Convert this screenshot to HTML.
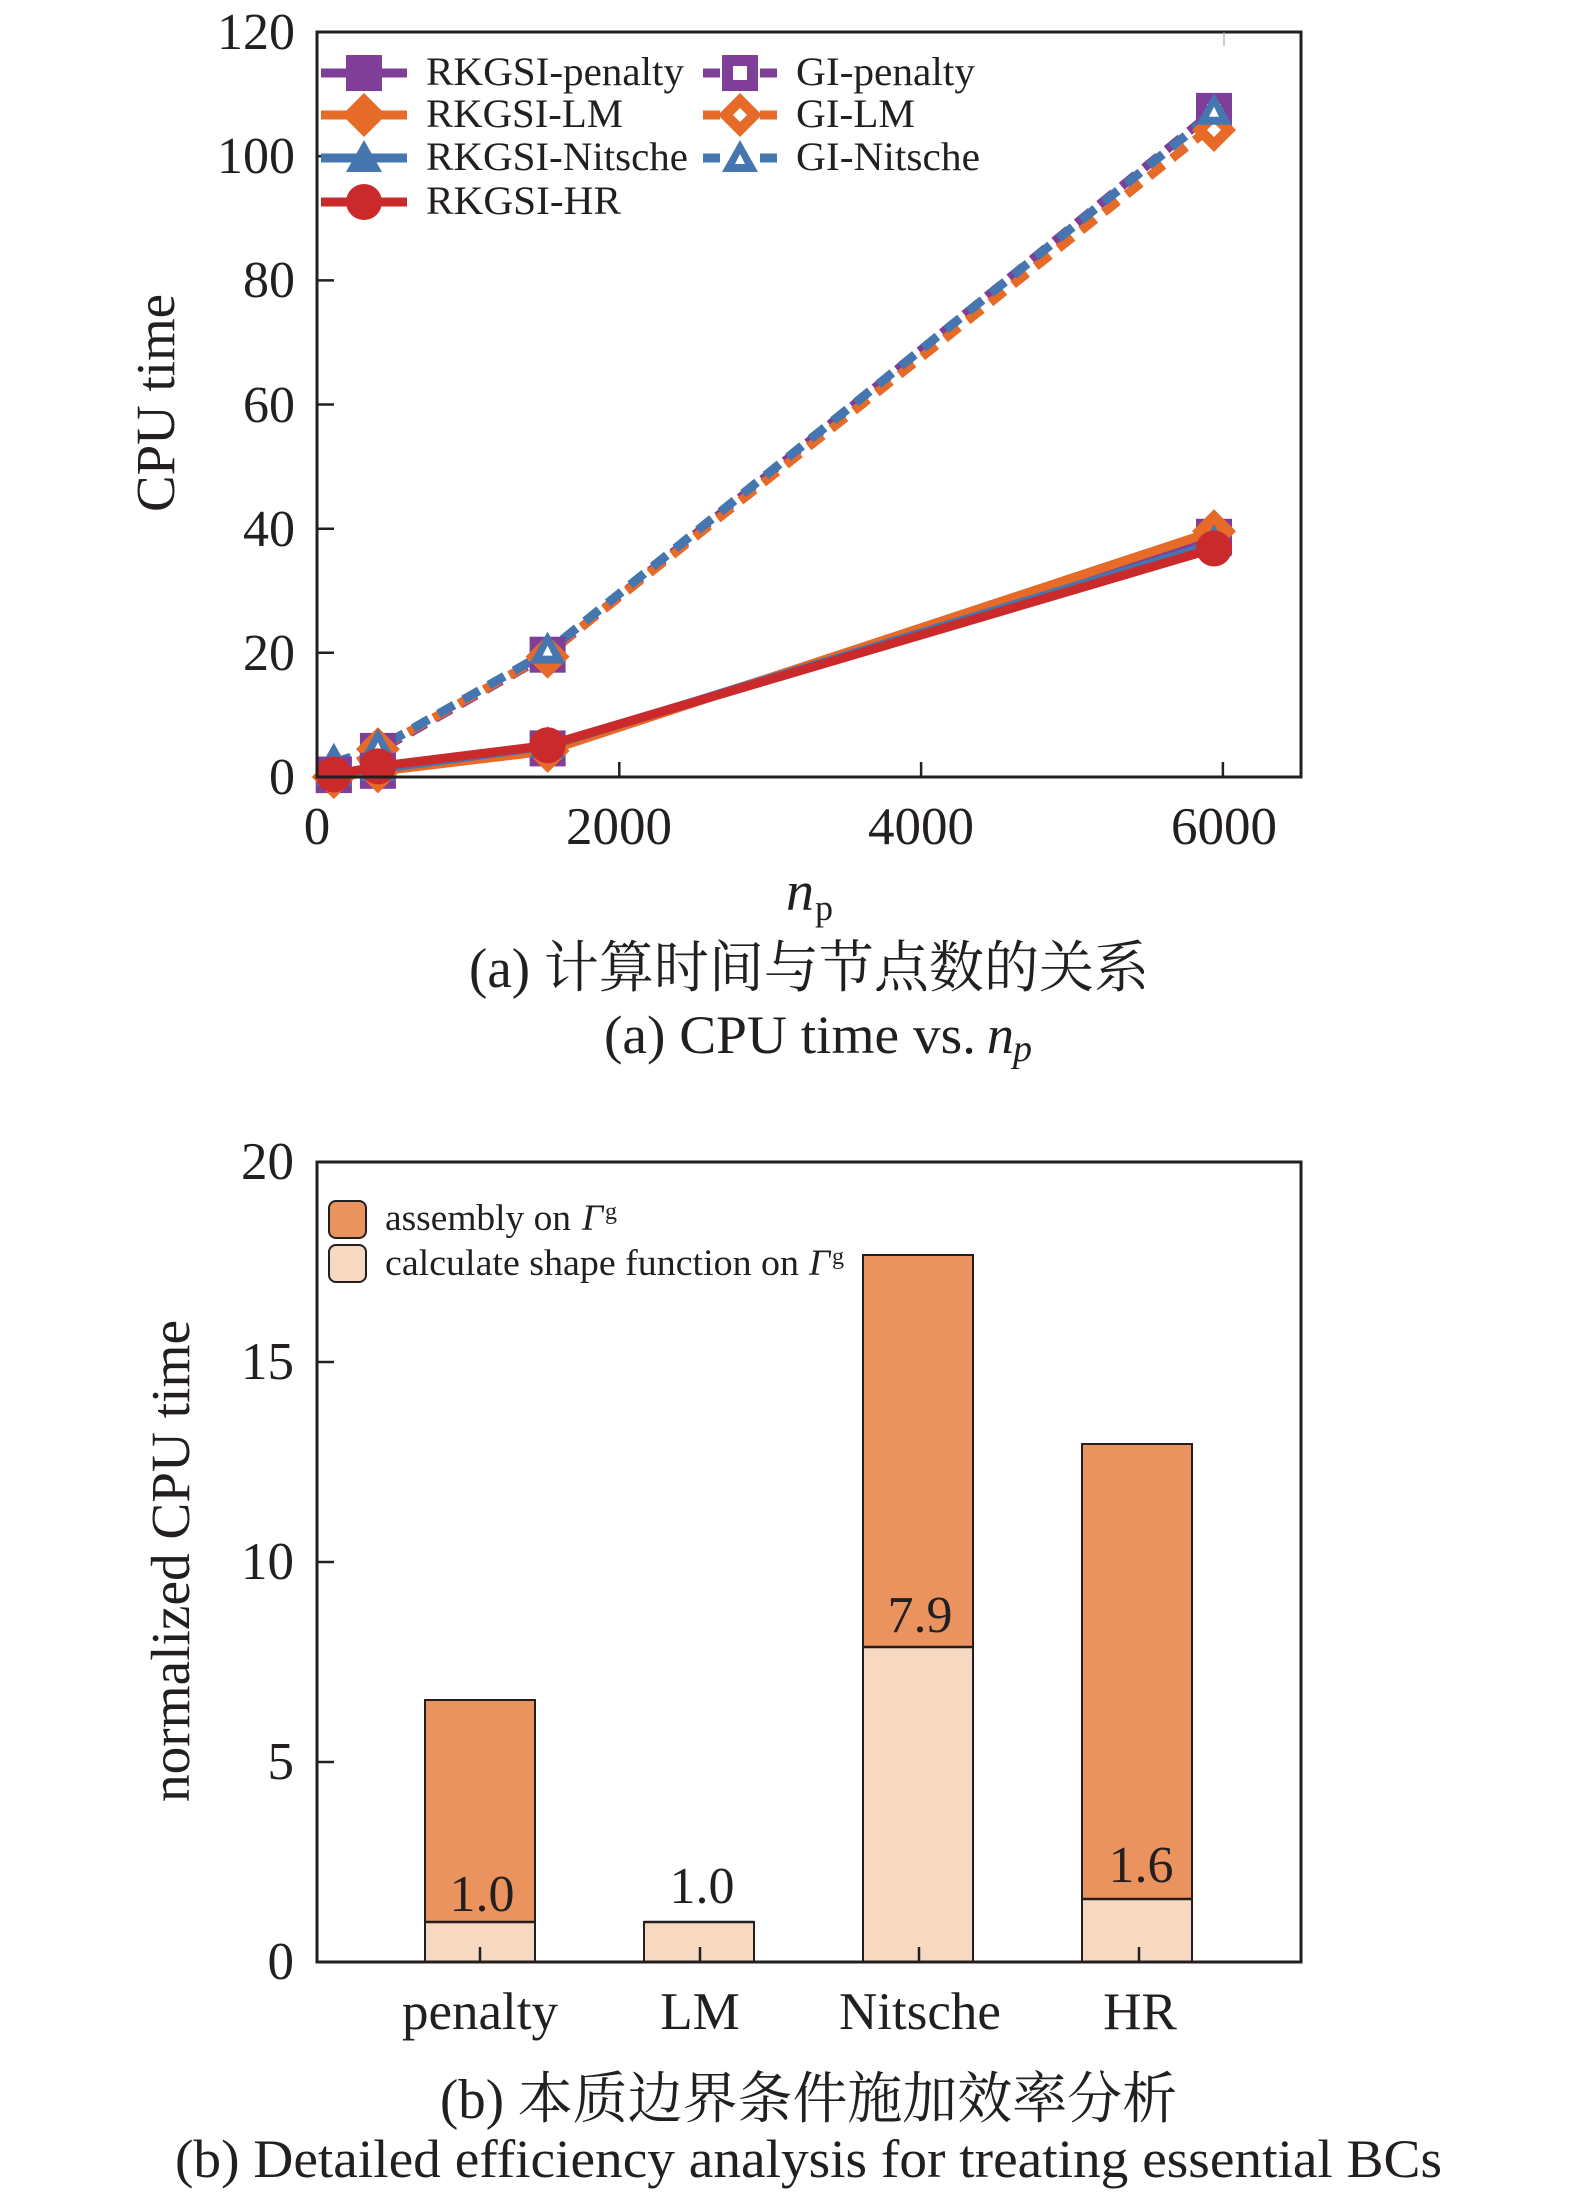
<!DOCTYPE html>
<html><head><meta charset="utf-8"><style>
html,body{margin:0;padding:0;background:#fff;}
svg{display:block;}
text{font-family:"Liberation Serif","Noto Serif CJK SC",serif;fill:#231F20;}
</style></head><body>
<svg width="1575" height="2198" viewBox="0 0 1575 2198" xmlns="http://www.w3.org/2000/svg">
<defs>
  <g id="fsq"><rect x="-18" y="-18" width="36" height="36" fill="#7F3F98"/></g>
  <g id="fdi"><polygon points="0,-22 22,0 0,22 -22,0" fill="#E66A28"/></g>
  <g id="ftr"><polygon points="0,-20 18,12 -18,12" fill="#4676AF"/></g>
  <g id="fci"><circle r="18" fill="#CB2A2C"/></g>
  <g id="osq"><rect x="-18" y="-18" width="36" height="36" fill="#7F3F98"/><rect x="-7" y="-7" width="14" height="14" fill="#fff"/></g>
  <g id="odi"><polygon points="0,-22 22,0 0,22 -22,0" fill="#E66A28"/><polygon points="0,-7 7,0 0,7 -7,0" fill="#fff"/></g>
  <g id="otr"><polygon points="0,-20 18,12 -18,12" fill="#4676AF"/><polygon points="0,-6 5,4 -5,4" fill="#fff"/></g>
</defs>

<!-- ================= TOP CHART ================= -->
<!-- GI dashed series -->
<g fill="none" stroke-width="9" stroke-dasharray="18 11" stroke-linejoin="round">
  <path d="M333.8,774.5 L377.9,750.9 L547.6,654.7 L1214,110.9" stroke="#7F3F98"/>
  <path d="M333.8,777 L377.9,749.1 L547.6,654 L1214,125" stroke="#E66A28"/>
  <path d="M333.8,762.7 L377.9,748.4 L547.6,651.6 L1214,112.8" stroke="#4676AF"/>
</g>
<use href="#osq" x="333.8" y="774.5"/><use href="#osq" x="377.9" y="750.9"/><use href="#osq" x="547.6" y="654.7"/><use href="#osq" x="1214" y="110.9"/>
<use href="#odi" x="333.8" y="777"/><use href="#odi" x="377.9" y="749.1"/><use href="#odi" x="547.6" y="656.6"/><use href="#odi" x="1214" y="130"/>
<use href="#otr" x="333.8" y="762.7"/><use href="#otr" x="377.9" y="748.4"/><use href="#otr" x="547.6" y="651.6"/><use href="#otr" x="1214" y="112.8"/>

<!-- RKGSI solid series -->
<path d="M333.8,775.1 L377.9,770.8 L547.6,748.4 L1214,536.8" fill="none" stroke="#7F3F98" stroke-width="9" stroke-linejoin="round"/>
<use href="#fsq" x="333.8" y="775.1"/><use href="#fsq" x="377.9" y="770.8"/><use href="#fsq" x="547.6" y="748.4"/><use href="#fsq" x="1214" y="536.8"/>
<path d="M333.8,777 L377.9,771.4 L547.6,750.9 L1214,531.2" fill="none" stroke="#E66A28" stroke-width="9" stroke-linejoin="round"/>
<use href="#fdi" x="333.8" y="777"/><use href="#fdi" x="377.9" y="771.4"/><use href="#fdi" x="547.6" y="750.9"/><use href="#fdi" x="1214" y="531.2"/>
<path d="M333.8,773.9 L377.9,768.9 L547.6,746.0 L1214,544.2" fill="none" stroke="#4676AF" stroke-width="9" stroke-linejoin="round"/>
<use href="#ftr" x="333.8" y="773.9"/><use href="#ftr" x="377.9" y="768.9"/><use href="#ftr" x="547.6" y="746"/><use href="#ftr" x="1214" y="544.2"/>
<path d="M333.8,774.5 L377.9,766.4 L547.6,745.3 L1214,548.5" fill="none" stroke="#CB2A2C" stroke-width="9" stroke-linejoin="round"/>
<use href="#fci" x="333.8" y="774.5"/><use href="#fci" x="377.9" y="766.4"/><use href="#fci" x="547.6" y="745.3"/><use href="#fci" x="1214" y="548.5"/>

<!-- axes box -->
<rect x="317" y="32" width="984" height="745" fill="none" stroke="#231F20" stroke-width="3"/>
<g stroke="#231F20" stroke-width="2.5">
  <line x1="317" y1="652.8" x2="334" y2="652.8"/>
  <line x1="317" y1="528.7" x2="334" y2="528.7"/>
  <line x1="317" y1="404.5" x2="334" y2="404.5"/>
  <line x1="317" y1="280.4" x2="334" y2="280.4"/>
  <line x1="317" y1="156.2" x2="334" y2="156.2"/>
  <line x1="619.3" y1="777" x2="619.3" y2="762"/>
  <line x1="921.1" y1="777" x2="921.1" y2="762"/>
  <line x1="1222.9" y1="777" x2="1222.9" y2="762"/>
</g>
<line x1="1224" y1="32" x2="1224" y2="46" stroke="#999" stroke-width="1"/>

<!-- y tick labels -->
<g font-size="52" text-anchor="end">
  <text x="295" y="794">0</text>
  <text x="295" y="670">20</text>
  <text x="295" y="546">40</text>
  <text x="295" y="422">60</text>
  <text x="295" y="297">80</text>
  <text x="295" y="173">100</text>
  <text x="295" y="49">120</text>
</g>
<!-- x tick labels -->
<g font-size="53" text-anchor="middle">
  <text x="317" y="844">0</text>
  <text x="619" y="844">2000</text>
  <text x="921" y="844">4000</text>
  <text x="1224" y="844">6000</text>
</g>
<text transform="translate(174,403) rotate(-90)" font-size="55" text-anchor="middle" textLength="218" lengthAdjust="spacingAndGlyphs">CPU time</text>
<text x="786" y="910" font-size="56" font-style="italic">n</text>
<text x="815" y="920" font-size="36">p</text>

<!-- top legend -->
<g stroke-width="9">
  <line x1="321" y1="73" x2="407" y2="73" stroke="#7F3F98"/>
  <line x1="321" y1="115" x2="407" y2="115" stroke="#E66A28"/>
  <line x1="321" y1="158" x2="407" y2="158" stroke="#4676AF"/>
  <line x1="321" y1="202" x2="407" y2="202" stroke="#CB2A2C"/>
  <line x1="703" y1="73" x2="720" y2="73" stroke="#7F3F98"/><line x1="760" y1="73" x2="777" y2="73" stroke="#7F3F98"/>
  <line x1="703" y1="115" x2="720" y2="115" stroke="#E66A28"/><line x1="760" y1="115" x2="777" y2="115" stroke="#E66A28"/>
  <line x1="703" y1="158" x2="720" y2="158" stroke="#4676AF"/><line x1="760" y1="158" x2="777" y2="158" stroke="#4676AF"/>
</g>
<use href="#fsq" x="364" y="73"/>
<use href="#fdi" x="364" y="115"/>
<use href="#ftr" x="364" y="160"/>
<use href="#fci" x="364" y="202"/>
<use href="#osq" x="740" y="73"/>
<use href="#odi" x="740" y="115"/>
<use href="#otr" x="740" y="160"/>
<g font-size="40">
  <text x="426" y="85" textLength="258" lengthAdjust="spacingAndGlyphs">RKGSI-penalty</text>
  <text x="426" y="127" textLength="197" lengthAdjust="spacingAndGlyphs">RKGSI-LM</text>
  <text x="426" y="170" textLength="262" lengthAdjust="spacingAndGlyphs">RKGSI-Nitsche</text>
  <text x="426" y="214" textLength="195" lengthAdjust="spacingAndGlyphs">RKGSI-HR</text>
  <text x="796" y="85" textLength="179" lengthAdjust="spacingAndGlyphs">GI-penalty</text>
  <text x="796" y="127" textLength="119" lengthAdjust="spacingAndGlyphs">GI-LM</text>
  <text x="796" y="170" textLength="184" lengthAdjust="spacingAndGlyphs">GI-Nitsche</text>
</g>

<!-- top captions -->
<text x="469" y="987" font-size="56" textLength="680" lengthAdjust="spacingAndGlyphs">(a) 计算时间与节点数的关系</text>
<text x="604" y="1053" font-size="54" textLength="372" lengthAdjust="spacingAndGlyphs">(a) CPU time vs.</text>
<text x="987" y="1053" font-size="54" font-style="italic">n</text>
<text x="1013" y="1061" font-size="38" font-style="italic">p</text>

<!-- ================= BOTTOM CHART ================= -->
<g stroke="#231F20" stroke-width="2">
  <rect x="425" y="1922" width="110" height="40" fill="#F7D8C0"/>
  <rect x="425" y="1700" width="110" height="222" fill="#EA935F"/>
  <rect x="644" y="1922" width="110" height="40" fill="#F7D8C0"/>
  <rect x="863" y="1647" width="110" height="315" fill="#F7D8C0"/>
  <rect x="863" y="1255" width="110" height="392" fill="#EA935F"/>
  <rect x="1082" y="1899" width="110" height="63" fill="#F7D8C0"/>
  <rect x="1082" y="1444" width="110" height="455" fill="#EA935F"/>
</g>
<g stroke="#231F20" stroke-width="2.5">
  <line x1="425" y1="1922" x2="535" y2="1922"/>
  <line x1="644" y1="1922" x2="754" y2="1922"/>
  <line x1="863" y1="1647" x2="973" y2="1647"/>
  <line x1="1082" y1="1899" x2="1192" y2="1899"/>
  <line x1="480" y1="1962" x2="480" y2="1947"/>
  <line x1="700" y1="1962" x2="700" y2="1947"/>
  <line x1="919" y1="1962" x2="919" y2="1947"/>
  <line x1="1139" y1="1962" x2="1139" y2="1947"/>
  <line x1="317" y1="1762" x2="334" y2="1762"/>
  <line x1="317" y1="1562" x2="334" y2="1562"/>
  <line x1="317" y1="1362" x2="334" y2="1362"/>
</g>
<rect x="317" y="1162" width="984" height="800" fill="none" stroke="#231F20" stroke-width="3"/>

<g font-size="53" text-anchor="end">
  <text x="294" y="1979">0</text>
  <text x="294" y="1779">5</text>
  <text x="294" y="1579">10</text>
  <text x="294" y="1379">15</text>
  <text x="294" y="1179">20</text>
</g>
<g font-size="52" text-anchor="middle">
  <text x="482" y="1911">1.0</text>
  <text x="702" y="1903">1.0</text>
  <text x="920" y="1632">7.9</text>
  <text x="1141" y="1882">1.6</text>
</g>
<g font-size="53" text-anchor="middle">
  <text x="480" y="2029">penalty</text>
  <text x="700" y="2029">LM</text>
  <text x="920" y="2029">Nitsche</text>
  <text x="1140" y="2029">HR</text>
</g>
<text transform="translate(189,1561) rotate(-90)" font-size="55" text-anchor="middle" textLength="482" lengthAdjust="spacingAndGlyphs">normalized CPU time</text>

<!-- bottom legend -->
<rect x="329" y="1201" width="37" height="37" rx="7" fill="#EA935F" stroke="#231F20" stroke-width="2"/>
<rect x="329" y="1245" width="37" height="37" rx="7" fill="#F7D8C0" stroke="#231F20" stroke-width="2"/>
<g font-size="37">
  <text x="385" y="1230" textLength="186" lengthAdjust="spacingAndGlyphs">assembly on</text>
  <text x="582" y="1230" font-style="italic">Γ</text>
  <text x="605" y="1219" font-size="24">g</text>
  <text x="385" y="1275" textLength="414" lengthAdjust="spacingAndGlyphs">calculate shape function on</text>
  <text x="809" y="1275" font-style="italic">Γ</text>
  <text x="832" y="1264" font-size="24">g</text>
</g>

<!-- bottom captions -->
<text x="440" y="2118" font-size="56" textLength="737" lengthAdjust="spacingAndGlyphs">(b) 本质边界条件施加效率分析</text>
<text x="175" y="2177" font-size="54" textLength="1267" lengthAdjust="spacingAndGlyphs">(b) Detailed efficiency analysis for treating essential BCs</text>
</svg>
</body></html>
